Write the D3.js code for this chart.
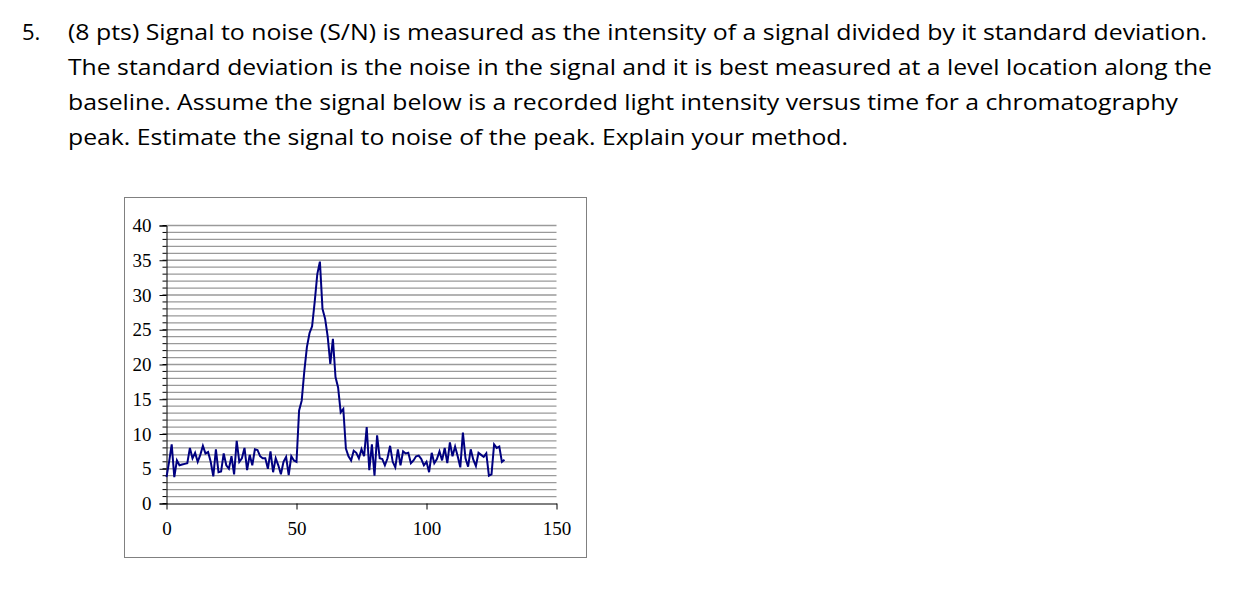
<!DOCTYPE html>
<html lang="en">
<head>
<meta charset="UTF-8">
<title>Signal to noise</title>
<script src="https://d3js.org/d3.v7.min.js"></script>
<style>
  body { margin: 0; background: #fff; }
  .q { font-family: 'Open Sans', 'Noto Sans', sans-serif; font-size: 22px; fill: #000; }
  .tick text { font-family: 'Liberation Serif', serif; font-size: 19px; fill: #000; }
</style>
</head>
<body>
<svg id="c" width="1245" height="590"></svg>
<script>
const intensity = [
  3.8, 6, 8.5, 3.8, 6.2, 5.5, 5.6, 5.7, 5.8, 8, 6.5, 7.3, 6, 7, 8.3, 7.2, 7.4, 6, 3.9, 7.8,
  4.5, 4.6, 7.2, 5.5, 5, 6.8, 4.2, 9, 6, 6.5, 8, 4.8, 7, 5.5, 7.8, 7.7, 6.8, 6.5, 6.5, 5,
  7.5, 4.5, 6.5, 5.5, 4.2, 6, 6.7, 4.1, 6.8, 6.2, 6,
  13.4, 14.8, 19, 22.5, 24.5, 25.5, 29, 33, 34.8, 28, 26.6, 24, 20.1, 23.7, 18.2, 16.7, 13.1, 13.6,
  7.9, 6.8, 6.2, 7.6, 7.3, 6.5, 7.8, 6.8, 11, 4.8, 8.5, 4, 9.8, 6.5, 6.4, 5.5, 6.5, 8.3, 6, 5.2, 7.8,
  5.5, 7.5, 7.2, 7.3, 5.8, 6.2, 6.8, 6.9, 6.4, 5.5, 6, 4.5, 7.3, 5.8, 6.4, 7.5, 6.2, 8, 5.8, 8.8,
  6.8, 8.2, 6.8, 5.2, 10.2, 6.5, 5.3, 7.8, 6.3, 5.4, 7.3, 7, 6.7, 7.2, 4, 4.2, 8.5, 8, 8.2, 6, 6.3
];
const xTicks = [0, 50, 100, 150];
const yTicks = [0, 5, 10, 15, 20, 25, 30, 35, 40];
const question = [
  "(8 pts) Signal to noise (S/N) is measured as the intensity of a signal divided by it standard deviation.",
  "The standard deviation is the noise in the signal and it is best measured at a level location along the",
  "baseline. Assume the signal below is a recorded light intensity versus time for a chromatography",
  "peak. Estimate the signal to noise of the peak. Explain your method."
];
const lineWidths = [1139, 1144, 1110, 780];

const svg = d3.select("#c");

svg.append("text").attr("class", "q").attr("x", 22).attr("y", 40).text("5.");
svg.selectAll("text.line").data(question).enter().append("text")
  .attr("class", "q line")
  .attr("x", 68)
  .attr("y", (d, i) => 40 + i * 35)
  .attr("textLength", (d, i) => lineWidths[i])
  .attr("lengthAdjust", "spacingAndGlyphs")
  .text(d => d);

// chart frame
svg.append("rect").attr("x", 124.5).attr("y", 197.5).attr("width", 462).attr("height", 360)
  .attr("fill", "none").attr("stroke", "#808080");

const x = d3.scaleLinear().domain([0, 150]).range([166.5, 556.5]);
const y = d3.scaleLinear().domain([0, 40]).range([503.5, 225.5]);

// horizontal grid every 1 unit
svg.append("g").selectAll("line").data(d3.range(1, 41)).enter().append("line")
  .attr("x1", x(0)).attr("x2", x(150))
  .attr("y1", d => y(d)).attr("y2", d => y(d))
  .attr("stroke", "#9a9a9a").attr("stroke-width", 1.3);

// minor y ticks
svg.append("g").selectAll("line").data(d3.range(0, 41)).enter().append("line")
  .attr("x1", x(0) - 4).attr("x2", x(0))
  .attr("y1", d => y(d)).attr("y2", d => y(d))
  .attr("stroke", "#000");

const yAxis = svg.append("g").attr("transform", `translate(${x(0)},0)`)
  .call(d3.axisLeft(y).tickValues(yTicks).tickSize(7).tickPadding(8));
yAxis.select(".domain").attr("stroke", "#000");

const xAxis = svg.append("g").attr("transform", `translate(0,${y(0)})`)
  .call(d3.axisBottom(x).tickValues(xTicks).tickSize(6).tickSizeOuter(0).tickPadding(12));
xAxis.select(".domain").attr("stroke", "#000");

const line = d3.line().x((d, i) => x(i)).y(d => y(d));
svg.append("path").datum(intensity)
  .attr("d", line)
  .attr("fill", "none")
  .attr("stroke", "#000080")
  .attr("stroke-width", 2);
</script>
</body>
</html>
